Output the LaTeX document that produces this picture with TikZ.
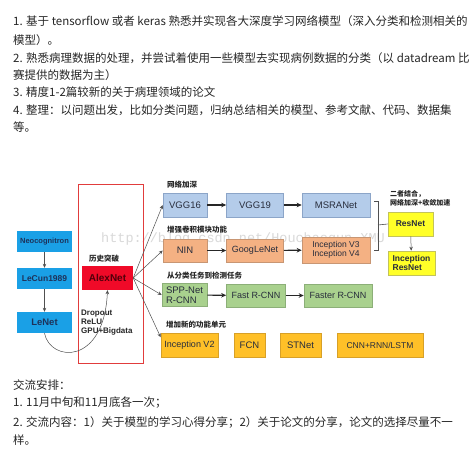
\documentclass[tikz,border=0pt]{standalone}
\usepackage{fontspec}
\setmainfont{Liberation Sans}
\newfontfamily\cjk{Noto Sans CJK SC}
\newfontfamily\wmfont{Liberation Mono}
\usetikzlibrary{arrows.meta}
\definecolor{bbox}{RGB}{26,160,230}
\definecolor{btext}{RGB}{30,50,90}
\definecolor{lbfill}{RGB}{180,204,234}
\definecolor{lbdraw}{RGB}{140,165,200}
\definecolor{orfill}{RGB}{244,177,131}
\definecolor{ordraw}{RGB}{200,150,115}
\definecolor{grfill}{RGB}{169,209,142}
\definecolor{grdraw}{RGB}{140,175,120}
\definecolor{gdfill}{RGB}{255,192,40}
\definecolor{gddraw}{RGB}{215,160,40}
\definecolor{yefill}{RGB}{255,255,40}
\definecolor{yedraw}{RGB}{195,195,90}
\definecolor{alexfill}{RGB}{240,10,40}
\definecolor{alextext}{RGB}{80,0,10}
\definecolor{framered}{RGB}{225,60,60}
\definecolor{boxtext}{RGB}{40,45,60}
\definecolor{linegray}{RGB}{80,80,80}
\begin{document}
\begin{tikzpicture}[x=1pt,y=-1pt,
  txt/.style={anchor=west,inner sep=0pt,font=\cjk\fontsize{11.5}{12}\selectfont,text=black!85},
  lbl/.style={anchor=west,inner sep=0pt,font=\cjk\bfseries\fontsize{7.5}{8}\selectfont,text=black!85},
  bx/.style={minimum width=#1,inner sep=1pt,font=\fontsize{9.5}{10}\selectfont,text=boxtext},
  blueb/.style={bx=55pt,minimum height=21pt,fill=bbox,text=btext,font=\bfseries\fontsize{7.5}{8}\selectfont},
  lbb/.style={bx=#1,minimum height=24pt,fill=lbfill,draw=lbdraw,line width=0.6pt},
  orb/.style={bx=#1,minimum height=23pt,fill=orfill,draw=ordraw,line width=0.6pt},
  grb/.style={bx=#1,minimum height=23pt,fill=grfill,draw=grdraw,line width=0.6pt},
  gdb/.style={bx=#1,minimum height=24pt,fill=gdfill,draw=gddraw,line width=0.6pt},
  yeb/.style={bx=#1,minimum height=24pt,fill=yefill,draw=yedraw,line width=0.6pt,font=\bfseries\fontsize{8.5}{9.5}\selectfont},
  thk/.style={-{Stealth[length=5pt,width=4.5pt]},line width=1.1pt,black!85},
  thn/.style={-{Stealth[length=4pt,width=3.5pt]},line width=0.5pt,linegray},
]
\useasboundingbox[fill=white] (0,0) rectangle (474,455);
% top text
\node[txt] (t1) at (13,21) {1. 基于 tensorflow 或者 keras 熟悉并实现各大深度学习网络模型（深入分类和检测相关的};
\node[txt] (t2) at (13,40) {模型）。};
\node[txt] (t3) at (13,58) {2. 熟悉病理数据的处理，并尝试着使用一些模型去实现病例数据的分类（以 datadream 比};
\node[txt] (t4) at (13,75) {赛提供的数据为主）};
\node[txt] (t5) at (13,92) {3. 精度1-2篇较新的关于病理领域的论文};
\node[txt] (t6) at (13,110) {4. 整理：以问题出发，比如分类问题，归纳总结相关的模型、参考文献、代码、数据集};
\node[txt] (t7) at (13,127) {等。};
% watermark
\node[anchor=west,inner sep=0pt,font=\wmfont\fontsize{13.5}{14}\selectfont,text=black!15] (wm) at (101,239) {http://blog.csdn.net/Houchaoqun\_XMU};
% red frame
\draw[framered,line width=1pt] (78,184) rectangle (143,363);
% left chain
\node[blueb] (neo) at (44.5,241.5) {Neocognitron};
\node[blueb,font=\bfseries\fontsize{8.5}{9}\selectfont] (lecun) at (44.5,278.5) {LeCun1989};
\node[blueb,font=\bfseries\fontsize{9.5}{10}\selectfont] (lenet) at (44.5,322.5) {LeNet};
\draw[thn] (neo) -- (lecun);
\draw[thn] (lecun) -- (lenet);
% AlexNet
\node[minimum width=51pt,minimum height=24pt,fill=alexfill,text=alextext,font=\bfseries\fontsize{10}{11}\selectfont] (alex) at (107.5,278) {AlexNet};
\node[lbl,anchor=center] (hist) at (104,259) {历史突破};
\node[anchor=north west,inner sep=0pt,align=left,font=\bfseries\fontsize{8}{9}\selectfont,text=black!85] (drop) at (81,310) {Dropout\\ReLU\\GPU+Bigdata};
\draw[thn] (lenet.south) .. controls (50,362) and (104,366) .. (alex.south);
% rows
\node[lbb=44pt] (vgg16) at (185,205) {VGG16};
\node[lbb=57pt] (vgg19) at (255,205) {VGG19};
\node[lbb=68pt] (msra) at (336,205) {MSRANet};
\node[orb=44pt] (nin) at (185,250.5) {NIN};
\node[orb=57pt,font=\fontsize{9}{10}\selectfont] (goog) at (255,250.5) {GoogLeNet};
\node[orb=68pt,minimum height=26pt,align=left,font=\fontsize{8.5}{9.5}\selectfont] (inc34) at (336,250) {Inception V3\\Inception V4};
\node[grb=45pt,align=left] (spp) at (184.5,295) {SPP-Net\\R-CNN};
\node[grb=59pt,font=\fontsize{9}{10}\selectfont] (fast) at (256,295.5) {Fast R-CNN};
\node[grb=68pt,font=\fontsize{9}{10}\selectfont] (faster) at (338,295.5) {Faster R-CNN};
\node[gdb=57pt,font=\fontsize{9}{10}\selectfont] (inc2) at (189.5,345) {Inception V2};
\node[gdb=31pt] (fcn) at (249.5,345) {FCN};
\node[gdb=41pt] (stn) at (300.5,345) {STNet};
\node[gdb=86pt,font=\fontsize{8.5}{9.5}\selectfont] (crl) at (380,345) {CNN+RNN/LSTM};
\node[yeb=45pt] (res) at (410.5,224) {ResNet};
\node[yeb=47pt,align=left] (ires) at (411.5,263) {Inception\\ResNet};
% section labels
\node[lbl] (l1) at (167,185) {网络加深};
\node[lbl] (l2) at (167,230) {增强卷积模块功能};
\node[lbl] (l3) at (167,276) {从分类任务到检测任务};
\node[lbl] (l4) at (166,325) {增加新的功能单元};
\node[lbl,align=left,font=\cjk\bfseries\fontsize{7}{9}\selectfont] (l5) at (390,198.5) {二者结合，\\网络加深+收敛加速};
% arrows
\draw[thk] (vgg16) -- (vgg19);
\draw[thk] (vgg19) -- (msra);
\draw[thk] (nin) -- (goog);
\draw[thk] (goog) -- (inc34);
\draw[thk] (spp) -- (fast);
\draw[thk] (fast) -- (faster);
\draw[thn] (alex.east) -- (vgg16.west);
\draw[thn] (alex.east) -- (nin.west);
\draw[thn] (alex.east) -- (spp.west);
\draw[thn] (alex.east) -- (inc2.165);
\draw[thn] (res) -- (ires);
% bracket
\coordinate (bt) at (374,201);
\coordinate (bb) at (374,250);
\draw[linegray,line width=0.6pt] (bt) -- ++(4,0) -- ++(0,49) -- (bb);
\draw[linegray,line width=0.6pt] (378,225) -- (res.west);
% bottom text
\node[txt] (b1) at (13,385) {交流安排：};
\node[txt] (b2) at (13,403) {1. 11月中旬和11月底各一次；};
\node[txt] (b3) at (13,422) {2. 交流内容：1）关于模型的学习心得分享；2）关于论文的分享，论文的选择尽量不一};
\node[txt] (b4) at (13,440) {样。};
\end{tikzpicture}
\end{document}
